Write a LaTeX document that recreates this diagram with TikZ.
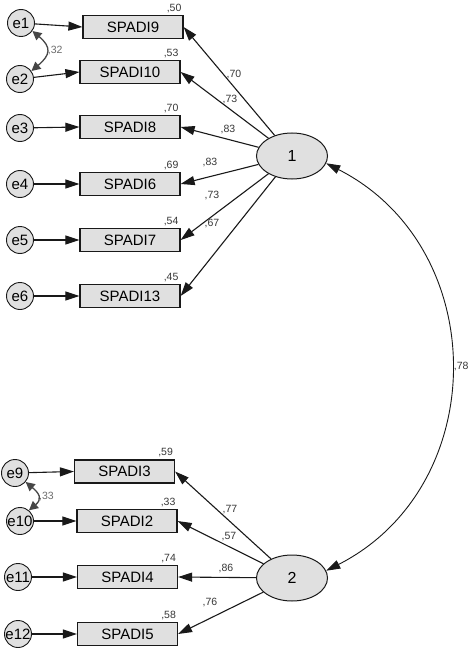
\documentclass[tikz,border=0pt]{standalone}
\usepackage{fontspec}
\setmainfont{Liberation Sans}
\usetikzlibrary{arrows.meta,shapes.geometric}

\definecolor{amosfill}{RGB}{224, 224, 224}
\definecolor{amosline}{RGB}{25, 25, 25}
\definecolor{amoslab}{RGB}{55, 55, 55}
\definecolor{amoscov}{RGB}{70, 70, 70}

\begin{document}
\begin{tikzpicture}[
    x=1pt, y=1pt,
    font=\fontsize{15}{15}\selectfont,
    err/.style={circle, draw=amosline, line width=0.9pt, fill=amosfill,
      minimum size=27pt, inner sep=0pt},
    obs/.style={draw=amosline, line width=1.2pt, fill=amosfill,
      minimum width=100pt, minimum height=23pt, inner sep=0pt},
    lat/.style={ellipse, draw=amosline, line width=1pt, fill=amosfill,
      minimum width=71pt, minimum height=46pt, inner sep=0pt,
      font=\fontsize{16}{16}\selectfont},
    reg/.style={-{Triangle[length=14pt, width=9pt]}, draw=amosline, line width=1.1pt},
    fcov/.style={{Triangle[length=14pt, width=9pt]}-{Triangle[length=14pt, width=9pt]},
      draw=amosline, line width=0.9pt},
    ecov/.style={{Triangle[length=9pt, width=9pt]}-{Triangle[length=9pt, width=9pt]},
      draw=amoscov, line width=1.3pt},
    lab/.style={font=\fontsize{10.5}{10.5}\selectfont, text=amoslab, inner sep=1pt},
    varlab/.style={lab, anchor=south east, inner sep=2pt},
  ]
    \useasboundingbox (0, 0) rectangle (472, -650);

    % --- Indicators: error circle -> observed box (y values in px from top)
    \foreach \i/\s/\ex/\ey/\bx/\by/\v in {
        1/9/21/23/133/27/{,50},
        2/10/20/79/130/72/{,53},
        3/8/20/128/130/127/{,70},
        4/6/20/184/130/184/{,69},
        5/7/20/240/130/240/{,54},
        6/13/20/296/130/296/{,45},
        9/3/15/473/124.5/471.5/{,59},
        10/2/20/521/127/521/{,33},
        11/4/18/577/127.5/577/{,74},
        12/5/18/634/127.5/634/{,58}} {
      \node[err] (e\i) at (\ex, -\ey) {\makebox[0pt]{e\i}};
      \node[obs, label={[varlab]north east:\v}] (s\s) at (\bx, -\by) {SPADI\s};
      \draw[reg] (e\i) -- (s\s.west);
    }

    % --- Latent factors
    \node[lat] (f1) at (292, -156) {1};
    \node[lat] (f2) at (292, -578) {2};

    % --- Loadings of factor 1
    \foreach \s/\l/\lx/\ly in {9/{,70}/234/75, 10/{,73}/230/100, 8/{,83}/228/130,
        6/{,83}/210/163, 7/{,73}/212/196, 13/{,67}/212/224} {
      \draw[reg] (f1) -- (s\s.east);
      \node[lab] (l\s) at (\lx, -\ly) {\l};
    }

    % --- Loadings of factor 2
    \foreach \s/\l/\lx/\ly in {3/{,77}/230/510, 2/{,57}/229/537,
        4/{,86}/226/568, 5/{,76}/210/602} {
      \draw[reg] (f2) -- (s\s.east);
      \node[lab] (l\s) at (\lx, -\ly) {\l};
    }

    % --- Covariances
    \draw[fcov] (f1.-12) to[out=-27, in=27, looseness=1.17]
      node[lab, pos=0.5, anchor=west, xshift=2pt] (c12) {,78} (f2.12);
    \draw[ecov] (e1.-35) to[out=-40, in=40, looseness=1.6]
      node[lab, pos=0.5, anchor=west, text=amoscov!80] (c1) {,32} (e2.35);
    \draw[ecov] (e9.-40) to[out=-40, in=40, looseness=1.6]
      node[lab, pos=0.5, anchor=west, text=amoscov!80] (c9) {,33} (e10.50);
  \end{tikzpicture}
\end{document}
